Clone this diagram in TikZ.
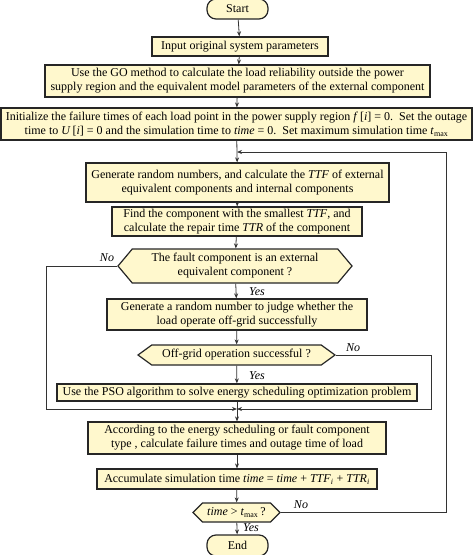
\documentclass[tikz,border=0pt]{standalone}
\usepackage{fontspec}
\setmainfont{Liberation Serif}
\usetikzlibrary{shapes.symbols,arrows.meta}
\definecolor{boxfill}{RGB}{255,248,205}
\tikzset{process/.style={rectangle, draw=black!85, fill=boxfill, line width=1.2pt,
    align=center, inner sep=0.5pt, font=\fontsize{12}{14}\selectfont},
  decision/.style={process, signal, signal to=west and east},
  terminal/.style={process, rounded corners=9pt},
  flow/.style={draw=black!80, line width=0.8pt, -{Stealth[length=5pt,width=4pt]}},
  branch/.style={font=\itshape\fontsize{12}{12}\selectfont, inner sep=0pt}}
\newcommand{\tmax}{\textit{t}\textsubscript{max}}

\begin{document}
\begin{tikzpicture}[x=1pt,y=-1pt]
    \useasboundingbox (0,0) rectangle (474,555);
    % main column
    \node[terminal, minimum width=61pt, minimum height=20pt] (start) at (237.5,9) {Start};
    \node[process, minimum width=176pt, minimum height=19pt] (input) at (240,46.5)
      {Input original system parameters};
    \node[process, minimum width=385pt, minimum height=32pt] (go) at (237.5,81)
      {Use the GO method to calculate the load reliability outside the power\\
       supply region and the equivalent model parameters of the external component};
    \node[process, minimum width=471pt, minimum height=32pt] (init) at (236.5,124)
      {Initialize the failure times of each load point in the power supply region \textit{f}\,[\textit{i}] = 0.\enspace Set the outage\\
       time to \textit{U}\,[\textit{i}] = 0 and the simulation time to \textit{time} = 0.\enspace Set maximum simulation time \tmax};
    \node[process, minimum width=303pt, minimum height=39pt] (gen) at (237.5,182.5)
      {Generate random numbers, and calculate the \textit{TTF} of external\\
       equivalent components and internal components};
    \node[process, minimum width=250pt, minimum height=29pt] (find) at (237,221.5)
      {Find the component with the smallest \textit{TTF}, and\\
       calculate the repair time \textit{TTR} of the component};
    \node[decision, minimum width=234pt, minimum height=34pt, signal pointer angle=100] (fault) at (235,266)
      {The fault component is an external\\ equivalent component ?};
    \node[process, minimum width=260pt, minimum height=31pt] (rand) at (237,314.5)
      {Generate a random number to judge whether the\\ load operate off-grid successfully};
    \node[decision, minimum width=197pt, minimum height=20pt, signal pointer angle=72] (offgrid) at (236.5,355)
      {Off-grid operation successful ?};
    \node[process, minimum width=360pt, minimum height=17pt] (pso) at (237,392.5)
      {Use the PSO algorithm to solve energy scheduling optimization problem};
    \node[process, minimum width=298pt, minimum height=32pt] (acc) at (237,438)
      {According to the energy scheduling or fault component\\
       type , calculate failure times and outage time of load};
    \node[process, minimum width=280pt, minimum height=20pt] (sum) at (237,479)
      {Accumulate simulation time \textit{time} = \textit{time} + \textit{TTF}\textsubscript{\textit{i}} + \textit{TTR}\textsubscript{\textit{i}}};
    \node[decision, minimum width=87pt, minimum height=19pt, signal pointer angle=90] (check) at (236.5,512.5)
      {\textit{time} > \tmax\,?};
    \node[terminal, minimum width=61pt, minimum height=21pt] (end) at (237.5,545.5) {End};
    % joints of the loops
    \coordinate (join) at (237,152);
    \coordinate (merge) at (237,409);
    \coordinate (lft) at (46,409);
    \coordinate (rgt) at (431,409);
    \coordinate (far) at (446,152);
    % connectors
    \draw[flow] (start) -- (input);
    \draw[flow] (input) -- (go);
    \draw[flow] (go) -- (init);
    \draw[flow] (init) -- (gen);
    \draw[flow] (gen) -- (find);
    \draw[flow] (find) -- (fault);
    \draw[flow] (fault) -- (rand);
    \draw[flow] (rand) -- (offgrid);
    \draw[flow] (offgrid) -- (pso);
    \draw[flow] (pso) -- (acc);
    \draw[flow] (acc) -- (sum);
    \draw[flow] (sum) -- (check);
    \draw[flow] (check) -- (end);
    \draw[flow] (fault.west) -| (lft) -- (merge);
    \draw[flow] (offgrid.east) -| (rgt) -- (merge);
    \draw[flow] (check.east) -| (far) -- (join);
    % branch labels
    \node[branch] (no1) at (107,258) {No};
    \node[branch] (yes1) at (257,292) {Yes};
    \node[branch] (no2) at (353,348) {No};
    \node[branch] (yes2) at (257,376) {Yes};
    \node[branch] (no3) at (301,505) {No};
    \node[branch] (yes3) at (251,528) {Yes};
\end{tikzpicture}
\end{document}
